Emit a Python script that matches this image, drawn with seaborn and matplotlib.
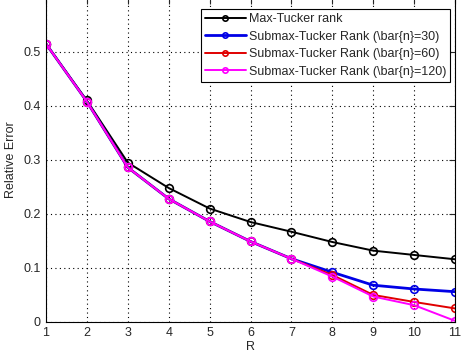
import numpy as np
import pandas as pd
import matplotlib
matplotlib.use('Agg')
import matplotlib.pyplot as plt
import seaborn as sns

# values
R = [1, 2, 3, 4, 5, 6, 7, 8, 9, 10, 11]
max_tucker = [0.515, 0.410, 0.295, 0.248, 0.210, 0.185, 0.167, 0.148, 0.132, 0.124, 0.116]
submax_30 = [0.515, 0.408, 0.286, 0.228, 0.186, 0.149, 0.117, 0.092, 0.068, 0.061, 0.056]
submax_60 = [0.515, 0.408, 0.286, 0.228, 0.186, 0.149, 0.117, 0.087, 0.050, 0.037, 0.025]
submax_120 = [0.515, 0.408, 0.286, 0.228, 0.186, 0.149, 0.117, 0.084, 0.047, 0.031, 0.002]

labels = ['Max-Tucker rank',
          'Submax-Tucker Rank (\\bar{n}=30)',
          'Submax-Tucker Rank (\\bar{n}=60)',
          'Submax-Tucker Rank (\\bar{n}=120)']
colors = ['black', '#0000e6', '#e00000', '#ff00ff']
widths = [1.4, 2.0, 1.4, 1.4]

sns.set_style('white')
plt.rcParams['font.family'] = ['Liberation Sans', 'DejaVu Sans']

fig = plt.figure(figsize=(4.74, 3.53), dpi=100)
ax = fig.add_axes([0.097, 0.088, 0.863, 0.918])

series = [max_tucker, submax_30, submax_60, submax_120]
for vals, lab, col, lw in zip(series, labels, colors, widths):
    df = pd.DataFrame({'R': R, 'err': vals})
    sns.lineplot(data=df, x='R', y='err', ax=ax, color=col, linewidth=lw,
                 marker='o', markersize=5.5, markerfacecolor='none',
                 markeredgecolor=col, markeredgewidth=1.2, label=lab)

ax.set_xlim(1, 11)
ax.set_ylim(0, 0.6)
ax.set_xticks(R)
ax.set_yticks([0, 0.1, 0.2, 0.3, 0.4, 0.5])
ax.set_yticklabels(['0', '0.1', '0.2', '0.3', '0.4', '0.5'])
ax.set_xlabel('R', fontsize=9, labelpad=1)
ax.set_ylabel('Relative Error', fontsize=9, labelpad=4)
ax.tick_params(direction='in', labelsize=9, length=4, top=True, right=True, pad=4)
ax.grid(True, color='black', linestyle=(0, (1, 3)), linewidth=0.8)
for s in ax.spines.values():
    s.set_color('black')
    s.set_linewidth(0.8)

leg = ax.legend(loc='upper right', fontsize=9, frameon=True, fancybox=False,
                framealpha=1, edgecolor='black', handlelength=3.3,
                borderpad=0.3, labelspacing=0.45, handletextpad=0.25,
                borderaxespad=0, markerscale=0.7,
                bbox_to_anchor=(0.988, 0.965))
leg.get_frame().set_linewidth(0.8)

fig.savefig('out.png', dpi=100)
